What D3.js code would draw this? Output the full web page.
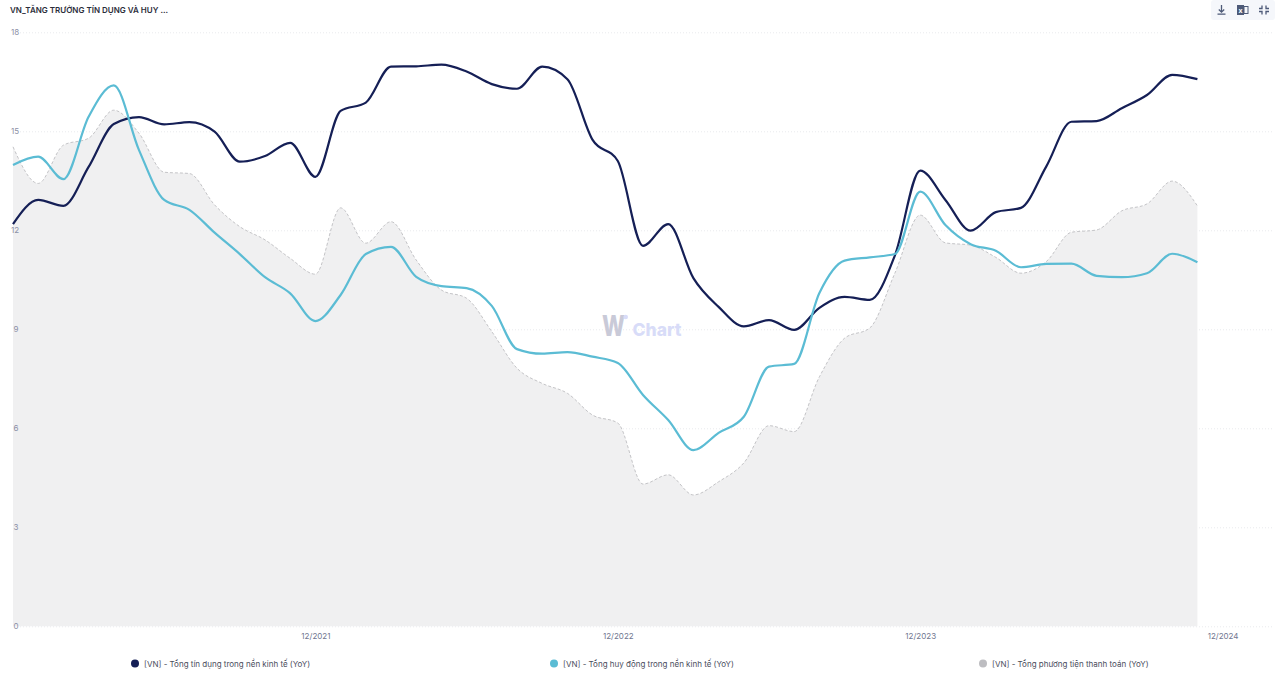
<!DOCTYPE html>
<html lang="vi">
<head>
<meta charset="utf-8">
<title>VN_TĂNG TRƯỞNG TÍN DỤNG VÀ HUY ĐỘNG</title>
<script src="https://cdn.jsdelivr.net/npm/d3@7/dist/d3.min.js"></script>
<style>
  html, body { margin: 0; padding: 0; background: #fff; }
  svg { display: block; font-family: Inter, "Noto Sans", sans-serif; }
  .grid line { stroke: #e9eaed; stroke-width: 1; stroke-dasharray: 1 2; }
  .tick-label { font-size: 8px; fill: #8b8fa6; }
  .axis-x path, .axis-x line { display: none; }
  .axis-x text { font-size: 8px; fill: #6f7690; font-family: Inter, "Noto Sans", sans-serif; }
  .legend text { font-size: 8px; fill: #4a4d5c; }
</style>
</head>
<body>
<svg id="chart" width="1280" height="684"></svg>
<script>
// Month categories, December 2020 to December 2024
const months = [
  "12/2020","01/2021","02/2021","03/2021","04/2021","05/2021","06/2021","07/2021","08/2021","09/2021","10/2021","11/2021",
  "12/2021","01/2022","02/2022","03/2022","04/2022","05/2022","06/2022","07/2022","08/2022","09/2022","10/2022","11/2022",
  "12/2022","01/2023","02/2023","03/2023","04/2023","05/2023","06/2023","07/2023","08/2023","09/2023","10/2023","11/2023",
  "12/2023","01/2024","02/2024","03/2024","04/2024","05/2024","06/2024","07/2024","08/2024","09/2024","10/2024","11/2024",
  "12/2024"
];
const xTickLabels = ["12/2021", "12/2022", "12/2023", "12/2024"];
const yTickLabels = [0, 3, 6, 9, 12, 15, 18];

// Year-on-year growth, percent
const creditGrowth = [
  12.19,12.92,12.74,13.92,15.22,15.43,15.21,15.28,14.99,14.08,14.25,14.65,
  13.62,15.62,15.87,16.96,16.97,17.02,16.81,16.43,16.29,16.96,16.58,14.74,
  14.10,11.53,12.19,10.55,9.68,9.09,9.28,8.98,9.65,9.98,9.89,11.25,
  13.81,12.92,11.99,12.55,12.68,13.93,15.29,15.31,15.70,16.10,16.71,16.58
];
const depositGrowth = [
  13.98,14.23,13.55,15.44,16.39,14.43,12.92,12.62,11.93,11.28,10.58,10.09,
  9.25,10.04,11.28,11.50,10.59,10.31,10.25,9.71,8.40,8.26,8.31,8.17,
  7.98,7.01,6.25,5.34,5.86,6.35,7.87,7.95,10.10,11.08,11.18,11.28,
  13.17,12.16,11.58,11.38,10.88,10.98,10.99,10.62,10.58,10.70,11.29,11.03
];
const moneySupplyGrowth = [
  14.53,13.42,14.58,14.79,15.64,14.94,13.76,13.72,12.77,12.11,11.71,11.15,
  10.67,12.68,11.61,12.26,11.10,10.19,9.94,8.93,7.82,7.36,7.06,6.40,
  6.16,4.31,4.59,3.98,4.38,4.95,6.08,5.90,7.56,8.73,9.04,10.71,
  12.46,11.62,11.55,11.18,10.70,11.05,11.94,12.01,12.59,12.80,13.49,12.74
];

const legendNames = [
  "[VN] - Tổng tín dụng trong nền kinh tế (YoY)",
  "[VN] - Tổng huy động trong nền kinh tế (YoY)",
  "[VN] - Tổng phương tiện thanh toán (YoY)"
];
const legendColors = ["#151f56", "#5bbcd4", "#bdbdc1"];
const titleText = "VN_TĂNG TRƯỞNG TÍN DỤNG VÀ HUY ...";

const svg = d3.select("#chart");
const x = d3.scalePoint().domain(months).range([13, 1222.6]);
const y = d3.scaleLinear().domain([0, 18]).range([626.3, 32.3]);

// Title
svg.append("text").attr("x", 10).attr("y", 13)
  .attr("font-size", 8).attr("font-weight", 600).attr("fill", "#2b2d3a")
  .text(titleText);

// Horizontal grid
svg.append("g").attr("class", "grid").selectAll("line").data(yTickLabels).join("line")
  .attr("x1", 20).attr("x2", 1272)
  .attr("y1", d => y(d) + 0.5).attr("y2", d => y(d) + 0.5);

// Watermark
const mark = svg.append("g").attr("font-family", "Inter, sans-serif").attr("font-weight", 800);
mark.append("text").attr("x", 602).attr("y", 336).attr("font-size", 29)
  .attr("textLength", 23).attr("lengthAdjust", "spacingAndGlyphs").attr("fill", "#c9cad8").text("W");
mark.append("circle").attr("cx", 625.7).attr("cy", 317).attr("r", 2.3).attr("fill", "#d8dcf8");
mark.append("text").attr("x", 632.5).attr("y", 336).attr("font-size", 17.5).attr("fill", "#d8dcf8").text("Chart");

const indexed = values => values.map((v, i) => [months[i], v]);

// Money supply: shaded area with a dashed edge
svg.append("path").datum(indexed(moneySupplyGrowth))
  .attr("fill", "#f0f0f1")
  .attr("d", d3.area().curve(d3.curveMonotoneX).x(d => x(d[0])).y0(y(0)).y1(d => y(d[1])));
svg.append("path").datum(indexed(moneySupplyGrowth))
  .attr("fill", "none").attr("stroke", "#c4c4c7").attr("stroke-width", 1).attr("stroke-dasharray", "3 2")
  .attr("d", d3.line().curve(d3.curveMonotoneX).x(d => x(d[0])).y(d => y(d[1])));

// Credit and deposit lines
const line = d3.line().curve(d3.curveMonotoneX).x(d => x(d[0])).y(d => y(d[1]));
svg.append("path").datum(indexed(creditGrowth))
  .attr("fill", "none").attr("stroke", legendColors[0]).attr("stroke-width", 2.2).attr("d", line);
svg.append("path").datum(indexed(depositGrowth))
  .attr("fill", "none").attr("stroke", legendColors[1]).attr("stroke-width", 2.2).attr("d", line);

// Y tick labels sit inside the plot, left-aligned
svg.append("g").selectAll("text").data(yTickLabels).join("text")
  .attr("class", "tick-label").attr("x", d => d < 10 ? 13.5 : 11).attr("y", d => y(d) + 3).text(d => d);

// X axis
svg.append("g").attr("class", "axis-x").attr("transform", "translate(0,626)")
  .call(d3.axisBottom(x).tickValues(xTickLabels).tickSize(0).tickPadding(7));

// Legend
const legendX = [135, 554, 983];
const legend = svg.append("g").attr("class", "legend").selectAll("g").data(legendNames).join("g")
  .attr("transform", (d, i) => `translate(${legendX[i]},663.5)`);
legend.append("circle").attr("r", 4).attr("fill", (d, i) => legendColors[i]);
legend.append("text").attr("x", 9).attr("y", 3).text(d => d);

// Toolbar at the top right
const bar = svg.append("g");
bar.append("rect").attr("x", 1211).attr("y", 0).attr("width", 64).attr("height", 20).attr("rx", 3).attr("fill", "#f5f7fb");
const iconColor = "#4d5a78";
bar.append("path").attr("fill", "none").attr("stroke", iconColor).attr("stroke-width", 1.3)
  .attr("d", "M1221.5 5v7M1218.8 9.5l2.7 2.7 2.7-2.7M1217.5 14.2h8");
bar.append("rect").attr("x", 1237).attr("y", 5).attr("width", 7).attr("height", 10).attr("fill", iconColor);
bar.append("rect").attr("x", 1244).attr("y", 6.5).attr("width", 4).attr("height", 7).attr("fill", "none").attr("stroke", iconColor).attr("stroke-width", 1);
bar.append("text").attr("x", 1238.4).attr("y", 12.7).attr("font-size", 7).attr("font-weight", 700).attr("fill", "#fff").text("x");
bar.append("path").attr("fill", "none").attr("stroke", iconColor).attr("stroke-width", 1.3)
  .attr("d", "M1262 5.5v3h-3M1266 5.5v3h3M1262 14.5v-3h-3M1266 14.5v-3h3");
</script>
</body>
</html>
